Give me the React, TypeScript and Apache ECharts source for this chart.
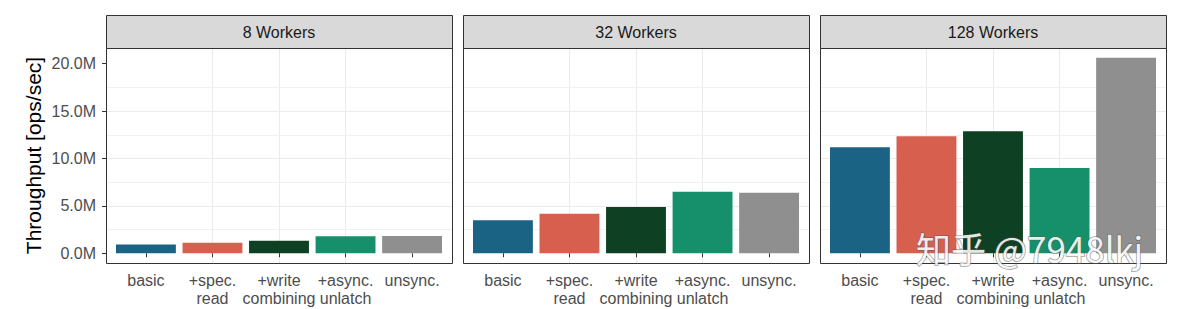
import React, { useEffect, useRef } from 'react';
import * as echarts from 'echarts';

const facets = ['8 Workers', '32 Workers', '128 Workers'];
const categories = ['basic', '+spec.\nread', '+write\ncombining', '+async.\nunlatch', 'unsync.'];
const barColors = ['#1A6385', '#D6604D', '#0E4023', '#16906A', '#8F8F8F'];
const workers8 = [0.92, 1.1, 1.33, 1.78, 1.82];
const workers32 = [3.49, 4.17, 4.87, 6.5, 6.39];
const workers128 = [11.19, 12.35, 12.88, 8.99, 20.63];
const yTicks = [0, 5, 10, 15, 20];
const yMinor = [2.5, 7.5, 12.5, 17.5];
const yTitle = 'Throughput [ops/sec]';
const watermark = '知乎 @7948lkj';

const FONT = '"Liberation Sans", Arial, Helvetica, sans-serif';

export default function App() {
  const ref = useRef<HTMLDivElement>(null);
  useEffect(() => {
    if (!ref.current) return;
    const chart = echarts.init(ref.current, undefined, { renderer: 'svg' });
    const panels = [workers8, workers32, workers128];
    const maxVal = Math.max(...panels.flat());
    const yMin = -0.05 * maxVal;
    const yMax = 1.05 * maxVal;
    const PL = 106, PW = 346, GAP = 11, PT = 48, PH = 215, ST = 15;
    const lefts = panels.map((_, i) => PL + i * (PW + GAP));
    const xPos = categories.map((_, k) => k + 1);

    const option: any = {
      animation: false,
      backgroundColor: '#ffffff',
      textStyle: { fontFamily: FONT },
      grid: panels.map((_, i) => ({
        left: lefts[i], top: PT, width: PW, height: PH,
        show: true, backgroundColor: '#ffffff', borderWidth: 0,
      })),
      xAxis: panels.map((_, i) => ({
        type: 'value', gridIndex: i, min: 0.4, max: 5.6, splitNumber: 5,
        axisLine: { show: false },
        axisTick: { show: true, customValues: xPos, length: 4, lineStyle: { color: '#333333', width: 1 } },
        axisLabel: {
          customValues: xPos,
          formatter: (v: number) => categories[Math.round(v) - 1] ?? '',
          fontSize: 16, color: '#4D4D4D', lineHeight: 18, margin: 8, fontFamily: FONT,
        },
        splitLine: { show: true, showMinLine: false, showMaxLine: false, lineStyle: { color: '#EBEBEB', width: 1 } },
      })),
      yAxis: panels.map((_, i) => ({
        type: 'value', gridIndex: i, min: yMin, max: yMax, splitNumber: 5,
        name: i === 0 ? yTitle : '',
        nameLocation: 'middle', nameGap: 62,
        nameTextStyle: { fontSize: 21, color: '#000000', fontFamily: FONT },
        axisLine: { show: false },
        axisTick: { show: i === 0, customValues: yTicks, length: 4, lineStyle: { color: '#333333', width: 1 } },
        axisLabel: {
          show: i === 0, customValues: yTicks,
          formatter: (v: number) => v.toFixed(1) + 'M',
          fontSize: 16, color: '#4D4D4D', margin: 10, fontFamily: FONT,
        },
        splitLine: { show: true, showMinLine: false, showMaxLine: false, lineStyle: { color: '#EBEBEB', width: 1 } },
      })),
      series: panels.map((vals, i) => ({
        type: 'bar', xAxisIndex: i, yAxisIndex: i, barWidth: '90%',
        data: vals.map((v, k) => ({ value: [xPos[k], v], itemStyle: { color: barColors[k] } })),
        markLine: {
          silent: true, symbol: 'none', z: 1,
          label: { show: false },
          lineStyle: { color: '#F1F1F1', width: 1, type: 'solid' },
          emphasis: { disabled: true },
          data: yMinor.map((y) => ({ yAxis: y })),
        },
      })),
      graphic: [
        ...facets.flatMap((f, i) => [
          {
            type: 'rect', z: 100,
            shape: { x: lefts[i] + 0.5, y: ST + 0.5, width: PW, height: PT - ST },
            style: { fill: '#D9D9D9', stroke: '#333333', lineWidth: 1 },
          },
          {
            type: 'text', z: 101, x: lefts[i] + PW / 2, y: (ST + PT) / 2 + 1,
            style: { text: f, fill: '#1A1A1A', fontSize: 16, fontFamily: FONT, align: 'center', verticalAlign: 'middle' },
          },
          {
            type: 'rect', z: 100,
            shape: { x: lefts[i] + 0.5, y: PT + 0.5, width: PW, height: PH },
            style: { fill: 'none', stroke: '#333333', lineWidth: 1 },
          },
        ]),
        {
          type: 'text', z: 200, x: 916, y: 247,
          style: {
            text: watermark, fontSize: 35, fontFamily: '"Noto Sans CJK SC", sans-serif',
            fill: 'rgba(255,255,255,0.9)', stroke: 'rgba(90,90,90,0.6)', lineWidth: 1.5,
            align: 'left', verticalAlign: 'middle',
          },
        },
      ],
    };
    chart.setOption(option);
    return () => chart.dispose();
  }, []);
  return <div ref={ref} style={{ position: 'fixed', left: 0, top: 0, width: 1181, height: 309 }} />;
}
